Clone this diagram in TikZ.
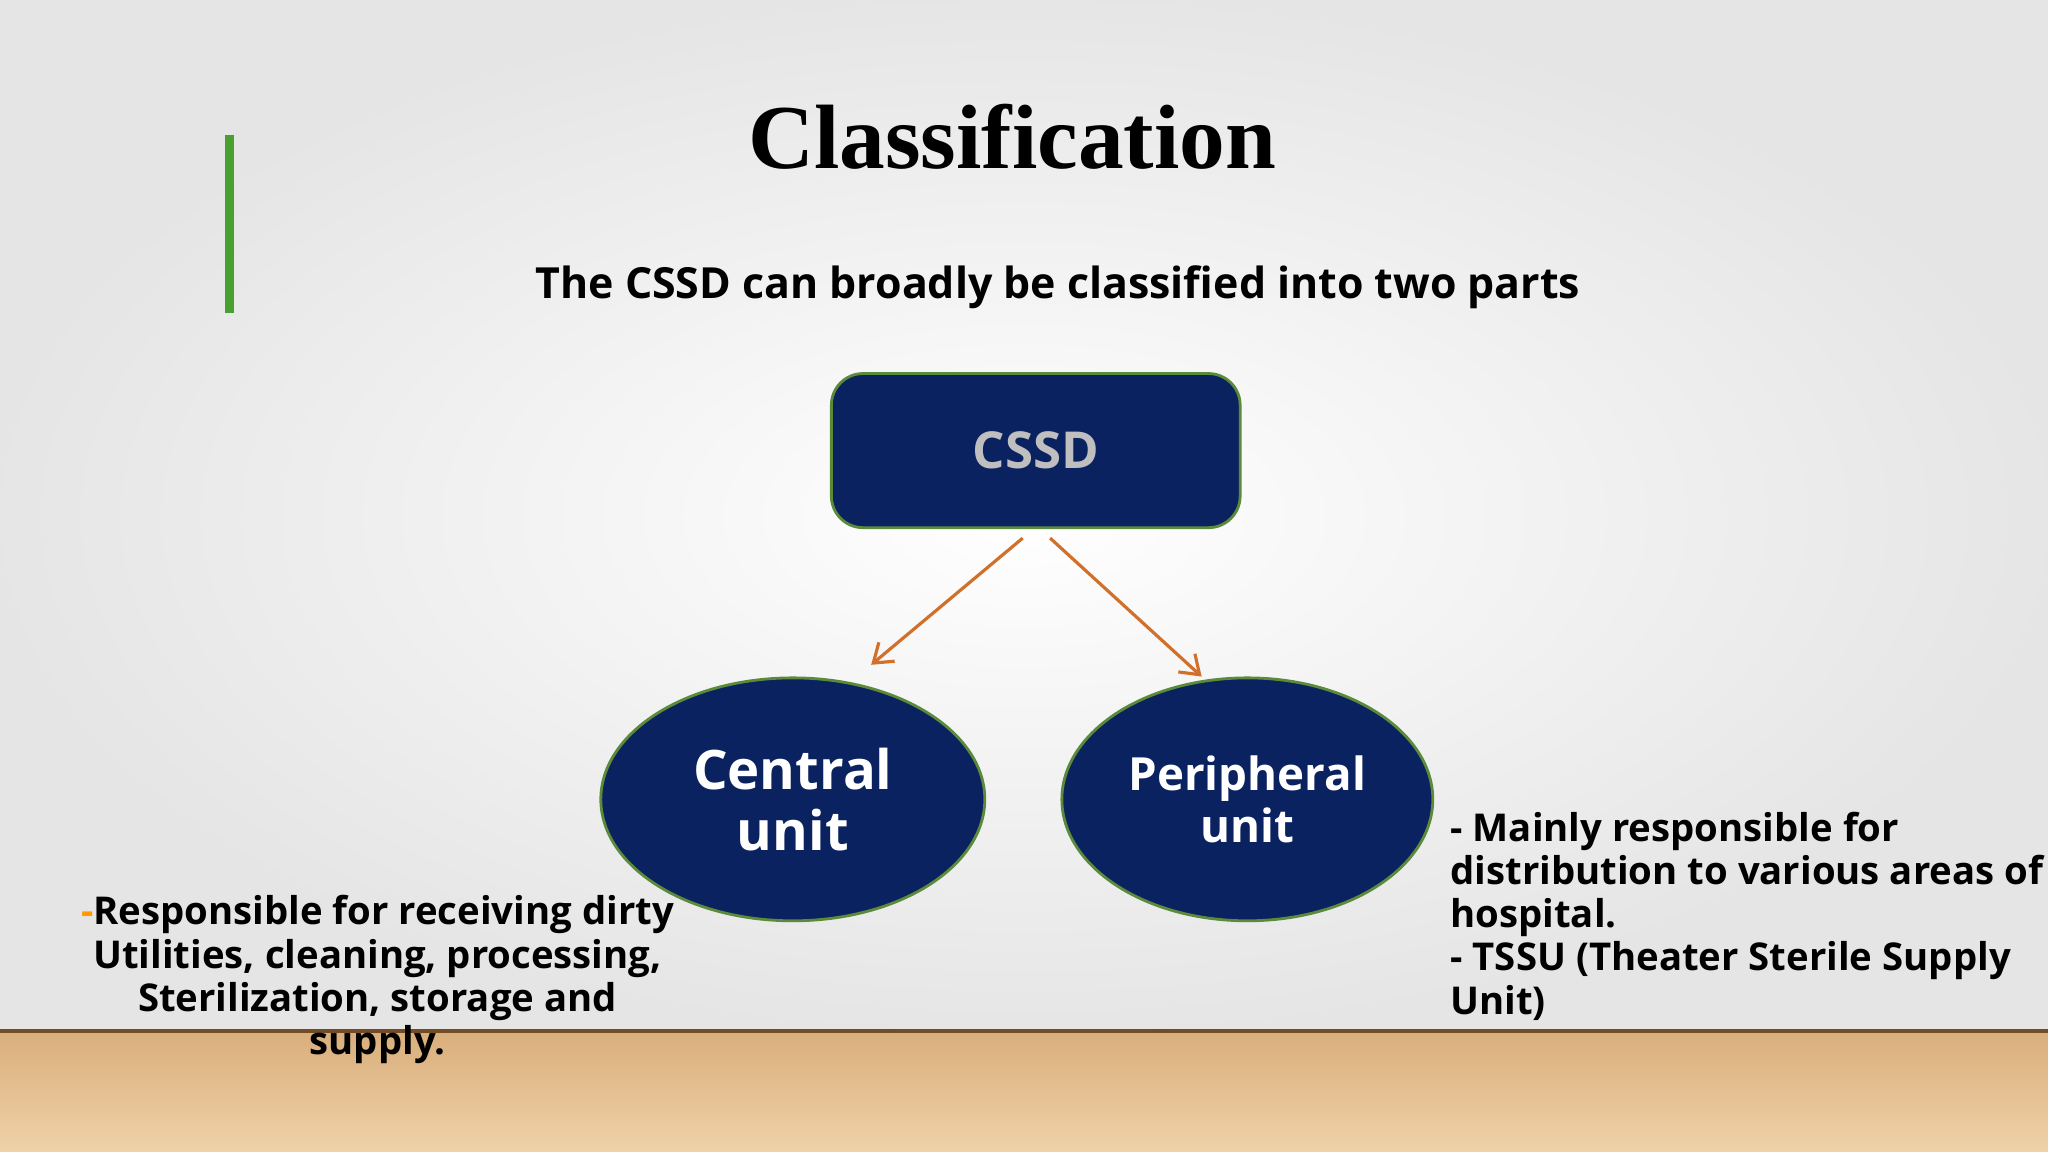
\documentclass[tikz,border=0pt]{standalone}
\usepackage{fontspec}
\setmainfont{Open Sans}
\newfontfamily\titlefont{Liberation Serif}
\usetikzlibrary{shapes.geometric,arrows.meta}
\definecolor{navy}{HTML}{0B2260}
\definecolor{edgegreen}{HTML}{5A8A3A}
\definecolor{arr}{HTML}{D0702A}
\definecolor{floorA}{HTML}{D9AE7C}
\definecolor{floorB}{HTML}{F0D2A8}
\tikzset{
  unit/.style={ellipse,fill=navy,draw=edgegreen,line width=0.8pt,text=white,font=\bfseries,align=center},
  conn/.style={draw=arr,line width=0.9pt,-{Straight Barb[length=5pt,width=7pt]}},
  body/.style={font=\bfseries\fontsize{10.9}{12.3}\selectfont,text=black}
}
\begin{document}
\begin{tikzpicture}[x=0.01306cm,y=-0.01306cm]
\useasboundingbox (0,0) rectangle (1568,882);
\shade[inner color=white,outer color=black!10] (0,0) rectangle (1568,790);
\shade[top color=floorA,bottom color=floorB] (0,790) rectangle (1568,882);
\fill[brown!60!black] (0,788) rectangle (1568,791);
\draw[draw=edgegreen!80!green,line width=2.5pt] (176,103) -- (176,240);
\node[font=\titlefont\bfseries\fontsize{26}{30}\selectfont] (title) at (775,105) {Classification};
\node[font=\bfseries\fontsize{12.2}{15}\selectfont] (sub) at (810,220) {The CSSD can broadly be classified into two parts};
\node[draw=edgegreen,fill=navy,rounded corners=9pt,line width=0.8pt,minimum width=313*0.01306cm,minimum height=118*0.01306cm,text=black!25,font=\bfseries\fontsize{14.5}{18}\selectfont] (cssd) at (793,345) {CSSD};
\node[unit,minimum width=294*0.01306cm,minimum height=186*0.01306cm,font=\bfseries\fontsize{15.5}{17.5}\selectfont] (central) at (607,612) {Central\\unit};
\node[unit,minimum width=284*0.01306cm,minimum height=186*0.01306cm,font=\bfseries\fontsize{13}{15}\selectfont] (periph) at (955,612) {Peripheral\\unit};
\coordinate (a1) at (783,412); \coordinate (a2) at (804,412);
\coordinate (b1) at (667,509); \coordinate (b2) at (920,518);
\draw[conn] (a1) -- (b1);
\draw[conn] (a2) -- (b2);
\node[body,align=center] (left) at (289,750) {\textcolor{orange!80!yellow}{-}Responsible for receiving dirty\\Utilities, cleaning, processing,\\Sterilization, storage and\\supply.};
\node[body,align=left,anchor=north west,inner sep=0pt] (right) at (1110,621) {- Mainly responsible for\\distribution to various areas of\\hospital.\\- TSSU (Theater Sterile Supply\\Unit)};
\end{tikzpicture}
\end{document}
